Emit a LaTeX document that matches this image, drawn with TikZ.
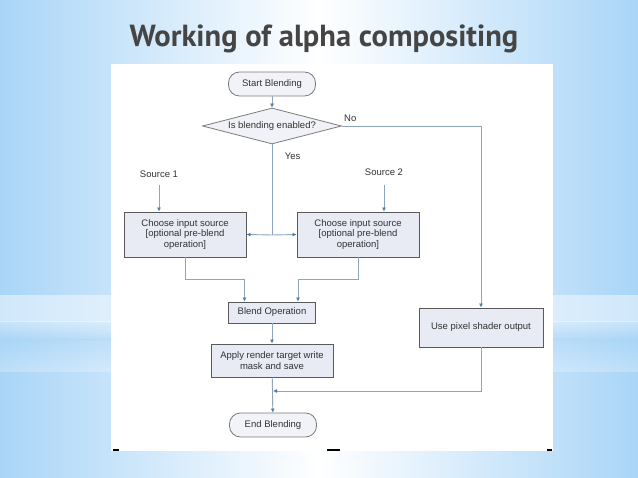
\documentclass[tikz,border=0pt]{standalone}
\usepackage{fontspec}
\setmainfont{Liberation Sans}
\newfontfamily\titlefont{PT Sans}
\usepackage{tikz}
\usetikzlibrary{arrows.meta,positioning,calc,shapes.geometric}
\definecolor{AlphaSky}{HTML}{A9D5F7}
\definecolor{AlphaLine}{HTML}{8EA5BC}
\definecolor{AlphaTip}{HTML}{56799F}
\definecolor{AlphaFill}{HTML}{E8EAF4}
\definecolor{AlphaEdge}{HTML}{5A5A5A}
\definecolor{AlphaText}{HTML}{333333}
\definecolor{AlphaTitle}{HTML}{454545}

\begin{document}
\begin{tikzpicture}[x=1pt,y=-1pt,font=\fontsize{9.5}{10.3}\selectfont,text=AlphaText,
  procbox/.style={draw=AlphaEdge,line width=0.9pt,fill=AlphaFill,align=center,inner sep=0pt},
  termbox/.style={draw=AlphaEdge!80,line width=0.8pt,fill=AlphaFill!55,rounded corners=11pt,inner sep=0pt,minimum width=87pt,minimum height=24pt},
  flow/.style={draw=AlphaLine,line width=0.9pt,-{Latex[length=4pt,width=4pt,color=AlphaTip]}},
  link/.style={draw=AlphaLine,line width=0.9pt}]
  \useasboundingbox (0,0) rectangle (638,478);
  \shade[left color=AlphaSky,right color=AlphaSky,middle color=white] (0,0) rectangle (638,478);
  \shade[top color=AlphaSky!0,bottom color=white,opacity=0.45] (0,296) rectangle (638,322);
  \shade[top color=white,bottom color=AlphaSky,opacity=0.35] (0,322) rectangle (638,340);
  \shade[top color=AlphaSky,bottom color=AlphaSky!0,opacity=0.25] (0,340) rectangle (638,372);
  \fill[white] (111,64) rectangle (553,451);
  \node[anchor=base,text=AlphaTitle,font=\titlefont\bfseries\fontsize{30.5}{33}\selectfont] (title) at (324,47) {Working of alpha compositing};

  \node[termbox] (start) at (272,84) {Start Blending};
  \node[diamond,draw=AlphaEdge!80,line width=0.8pt,fill=AlphaFill!60,inner sep=0pt,shape aspect=3.8,minimum width=139pt,minimum height=36pt] (dec) at (272,126) {Is blending enabled?};
  \node (src1) at (159,174) {Source 1};
  \node (src2) at (384,172) {Source 2};
  \node[procbox,minimum width=122pt,minimum height=45pt] (box1) at (185,234.5) {Choose input source\\{}[optional pre-blend\\operation]};
  \node[procbox,minimum width=122pt,minimum height=45pt] (box2) at (358,234.5) {Choose input source\\{}[optional pre-blend\\operation]};
  \node[procbox,minimum width=87pt,minimum height=21pt] (blend) at (272,312.5) {Blend Operation};
  \node[procbox,minimum width=122pt,minimum height=33pt] (apply) at (272,360.5) {Apply render target write\\mask and save};
  \node[procbox,minimum width=124pt,minimum height=39pt] (shader) at (481,327.5) {Use pixel shader output};
  \node[termbox] (end) at (273,425) {End Blending};

  \coordinate (split) at (272,235);
  \coordinate (m1) at (244.5,279);
  \coordinate (m2) at (298,279);
  \coordinate (join) at (273,391);

  \draw[flow] (start) -- (dec);
  \draw[flow] (dec.east) -| (shader.north) node[pos=0.03,above,yshift=1pt] {No};
  \draw[link] (dec.south) -- (split) node[pos=0.13,right,xshift=9pt] {Yes};
  \draw[flow] (split) -- (box1.east);
  \draw[flow] (split) -- (box2.west);
  \draw[flow] (src1.south) ++(0,4) -- (src1.south |- box1.north);
  \draw[flow] (src2.south) ++(0,6) -- (src2.south |- box2.north);
  \draw[flow] (box1.south) |- (m1) -- (m1 |- blend.north);
  \draw[flow] (box2.south) |- (m2) -- (m2 |- blend.north);
  \draw[flow] (blend) -- (apply);
  \draw[flow] (apply) -- (end);
  \draw[flow] (shader.south) |- (join);

  \fill[black] (113,449) rectangle (119,451.5);
  \fill[black] (327,449) rectangle (340,451.5);
  \fill[black] (547,449) rectangle (552,451.5);
\end{tikzpicture}
\end{document}
